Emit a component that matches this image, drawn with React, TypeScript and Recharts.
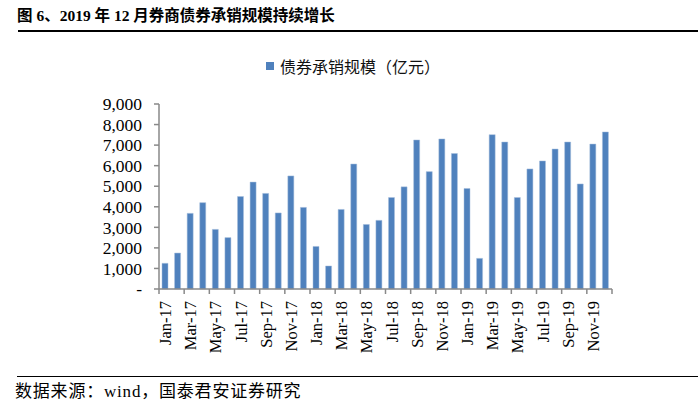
import React from "react";
import { Bar, BarChart, XAxis, YAxis } from "recharts";

// monthly bond underwriting, 100m yuan
const months = [
  "Jan-17", "Feb-17", "Mar-17", "Apr-17", "May-17", "Jun-17",
  "Jul-17", "Aug-17", "Sep-17", "Oct-17", "Nov-17", "Dec-17",
  "Jan-18", "Feb-18", "Mar-18", "Apr-18", "May-18", "Jun-18",
  "Jul-18", "Aug-18", "Sep-18", "Oct-18", "Nov-18", "Dec-18",
  "Jan-19", "Feb-19", "Mar-19", "Apr-19", "May-19", "Jun-19",
  "Jul-19", "Aug-19", "Sep-19", "Oct-19", "Nov-19", "Dec-19",
];
const underwriting = [
  1250, 1750, 3680, 4200, 2900, 2500,
  4500, 5200, 4650, 3700, 5500, 3970,
  2070, 1120, 3870, 6080, 3140, 3340,
  4450, 4970, 7250, 5710, 7300, 6590,
  4890, 1490, 7510, 7150, 4450, 5840,
  6230, 6810, 7150, 5110, 7050, 7640,
];
const yTicks = [0, 1000, 2000, 3000, 4000, 5000, 6000, 7000, 8000, 9000];

const seriesName = "债券承销规模（亿元）";
const title = "图 6、2019 年 12 月券商债券承销规模持续增长";
const source = "数据来源：wind，国泰君安证券研究";

const data = months.map((month, i) => ({ month, value: underwriting[i] }));

const W = 698;
const H = 404;
const CHART_H = 372;
const MARGIN = { top: 104, right: 86, left: 89, bottom: 11 };
const Y_AXIS_W = 70;
const X_AXIS_H = 72;
const AXIS_Y = CHART_H - MARGIN.bottom - X_AXIS_H;
const BAND = (W - MARGIN.left - Y_AXIS_W - MARGIN.right) / months.length;
const AXIS_GREY = "#898989";
const SERIF = '"Times New Roman", "Liberation Serif", "Noto Sans CJK SC", serif';

// every other month is labelled; tick marks sit on the category edges
const MonthTick = (props: any) => {
  const { x, payload, index } = props;
  const i = index ?? payload.index;
  if (i % 2 !== 0 && i !== months.length - 1) return null;
  const labelY = AXIS_Y + 12;
  return (
    <g>
      {i % 2 === 0 && (
        <>
          <line x1={x - BAND / 2} x2={x - BAND / 2} y1={AXIS_Y} y2={AXIS_Y + 5} stroke={AXIS_GREY} strokeWidth={1.5} />
          <text
            x={x}
            y={labelY}
            dy="0.35em"
            textAnchor="end"
            transform={`rotate(-90, ${x}, ${labelY})`}
            fill="#000"
            fontSize={16.5}
            fontFamily={SERIF}
          >
            {payload.value}
          </text>
        </>
      )}
      {i === months.length - 1 && (
        <line x1={x + BAND / 2} x2={x + BAND / 2} y1={AXIS_Y} y2={AXIS_Y + 5} stroke={AXIS_GREY} strokeWidth={1.5} />
      )}
    </g>
  );
};

const formatY = (v: number) => (v === 0 ? "-" : v.toLocaleString("en-US"));

export default function App() {
  return (
    <div style={{ position: "absolute", left: 0, top: 0, width: W, height: H, background: "#fff", overflow: "hidden" }}>
      <div
        style={{
          position: "absolute",
          left: 17,
          top: 5,
          fontFamily: SERIF,
          fontWeight: "bold",
          fontSize: 15.5,
          lineHeight: "22px",
          color: "#000",
          whiteSpace: "nowrap",
        }}
      >
        {title}
      </div>
      <div style={{ position: "absolute", left: 18, top: 30, width: W - 18, height: 2, background: "#000" }} />

      <div
        style={{
          position: "absolute",
          left: 266,
          top: 55,
          display: "flex",
          alignItems: "center",
          fontFamily: '"Noto Sans CJK SC", sans-serif',
          fontSize: 16,
          lineHeight: "22px",
          color: "#111",
          whiteSpace: "nowrap",
        }}
      >
        <span style={{ display: "inline-block", width: 8, height: 8, background: "#4F81BD", marginRight: 6 }} />
        {seriesName}
      </div>

      <div style={{ position: "absolute", left: 0, top: 0 }}>
        <BarChart width={W} height={CHART_H} data={data} margin={MARGIN} barCategoryGap={0}>
          <XAxis
            dataKey="month"
            interval={0}
            height={X_AXIS_H}
            tickLine={false}
            axisLine={{ stroke: AXIS_GREY, strokeWidth: 1.5 }}
            tick={<MonthTick />}
          />
          <YAxis
            width={Y_AXIS_W}
            domain={[0, 9000]}
            ticks={yTicks}
            interval={0}
            tickFormatter={formatY}
            tickSize={5}
            tickMargin={12}
            axisLine={{ stroke: AXIS_GREY, strokeWidth: 1.5 }}
            tickLine={{ stroke: AXIS_GREY, strokeWidth: 1.5 }}
            tick={{ fill: "#000", fontSize: 17.5, fontFamily: SERIF }}
          />
          <Bar
            dataKey="value"
            name={seriesName}
            fill="#4F81BD"
            stroke="#A7BEDD"
            strokeWidth={0.5}
            barSize={6}
            isAnimationActive={false}
          />
        </BarChart>
      </div>

      <div style={{ position: "absolute", left: 17, top: 376, width: W - 17, height: 1, background: "#000" }} />
      <div
        style={{
          position: "absolute",
          left: 15,
          top: 381,
          fontFamily: SERIF,
          fontSize: 17,
          lineHeight: "22px",
          letterSpacing: 0.8,
          color: "#000",
          whiteSpace: "nowrap",
        }}
      >
        {source}
      </div>
    </div>
  );
}
